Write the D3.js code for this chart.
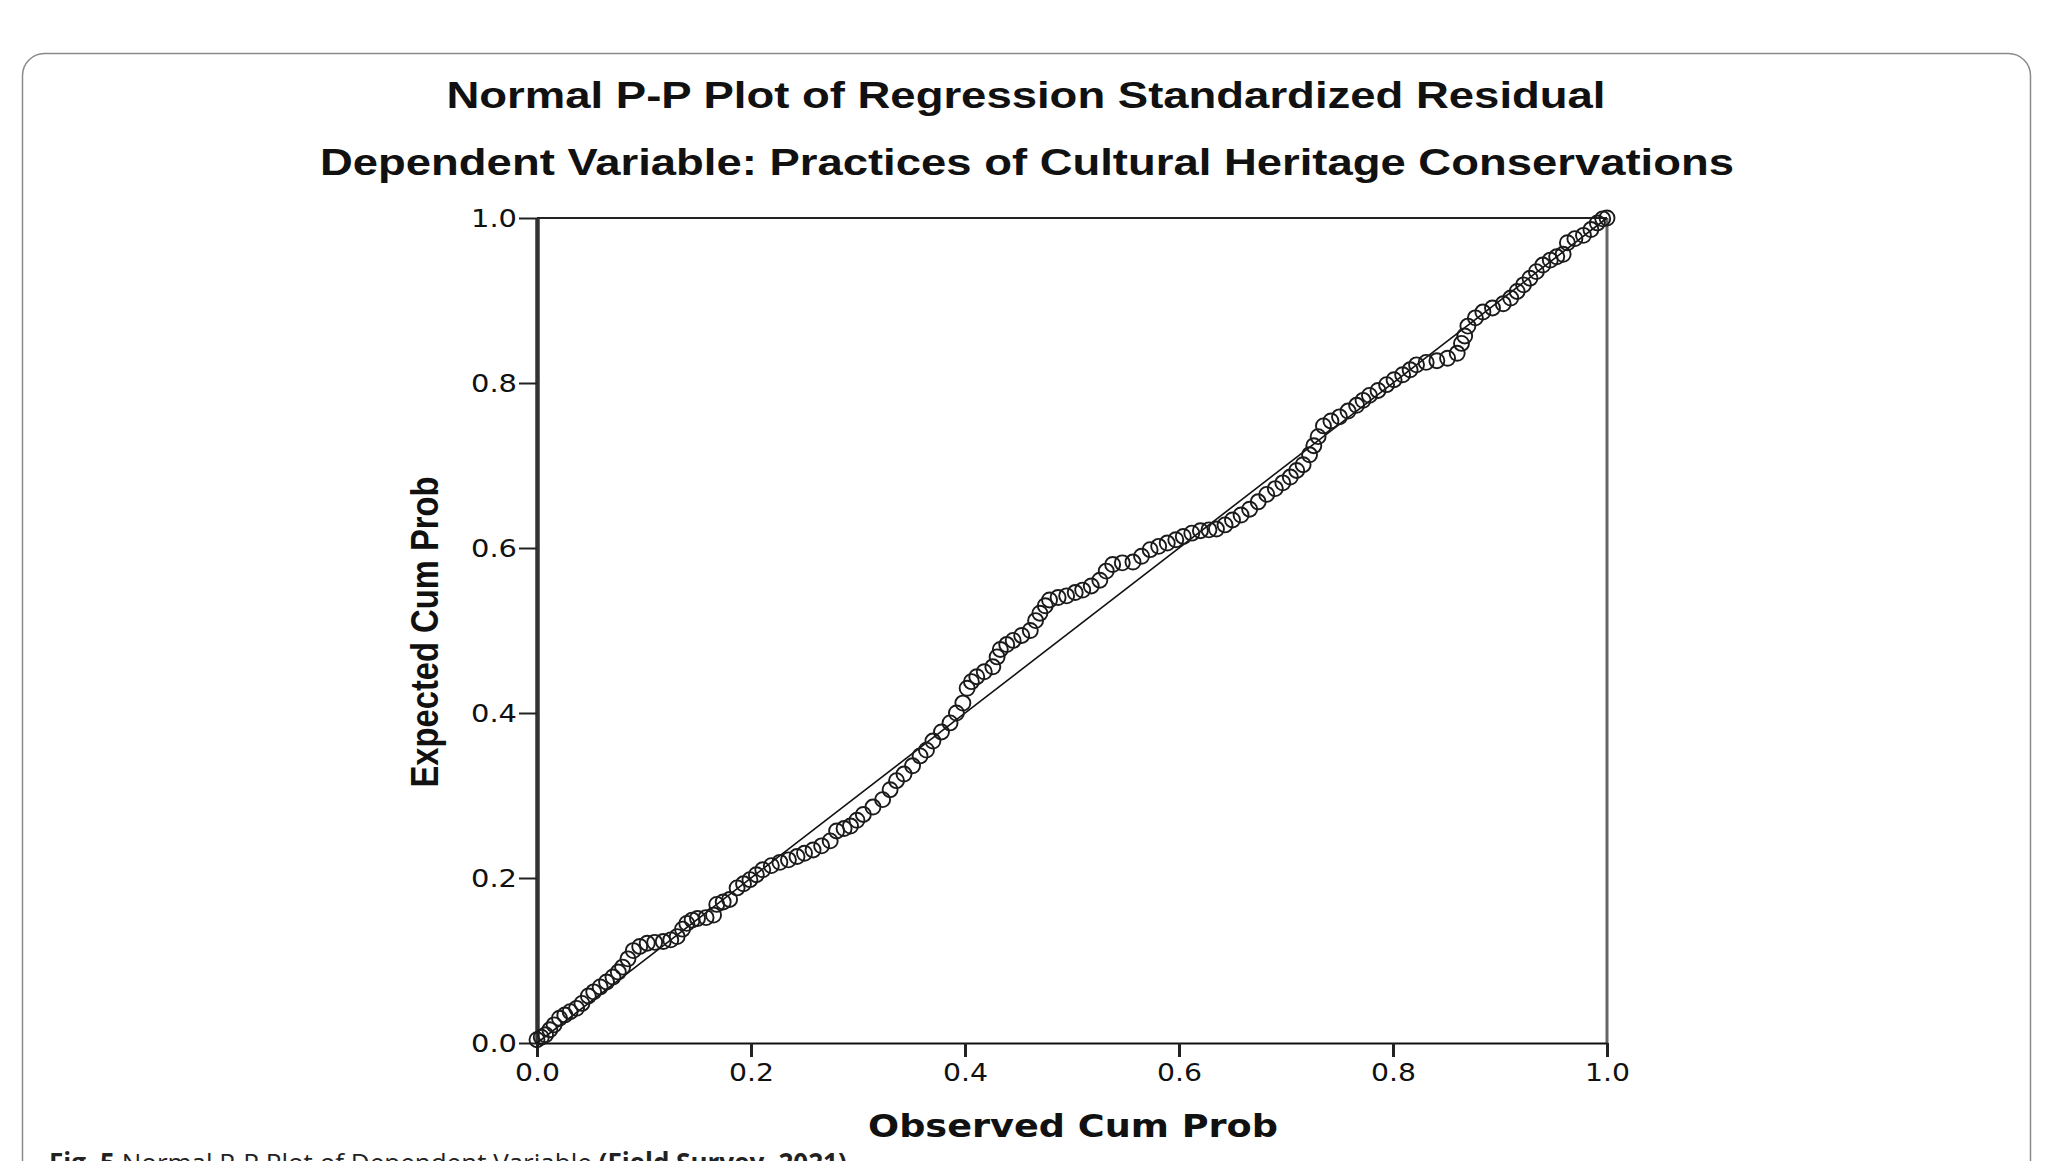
<!DOCTYPE html>
<html>
<head>
<meta charset="utf-8">
<title>Normal P-P Plot</title>
<script src="https://d3js.org/d3.v7.min.js"></script>
<style>
  body { margin: 0; background: #fff; }
  svg { display: block; }
  .tick text { font-family: "DejaVu Sans", sans-serif; fill: #111; }
</style>
</head>
<body>
<div id="chart"></div>
<script>
// observed cumulative probability
const observed = [
  0.000, 0.004, 0.008, 0.012, 0.016, 0.021, 0.026, 0.031, 0.037, 0.042,
  0.048, 0.053, 0.059, 0.065, 0.071, 0.076, 0.080, 0.085, 0.090, 0.096,
  0.103, 0.110, 0.118, 0.125, 0.131, 0.136, 0.140, 0.145, 0.150, 0.158,
  0.165, 0.168, 0.174, 0.180, 0.187, 0.193, 0.199, 0.205, 0.211, 0.219,
  0.227, 0.235, 0.243, 0.250, 0.258, 0.266, 0.274, 0.280, 0.287, 0.293,
  0.299, 0.305, 0.314, 0.323, 0.330, 0.336, 0.343, 0.351, 0.358, 0.364,
  0.370, 0.378, 0.386, 0.392, 0.398, 0.402, 0.406, 0.411, 0.418, 0.426,
  0.430, 0.433, 0.439, 0.445, 0.453, 0.461, 0.466, 0.470, 0.475, 0.479,
  0.487, 0.495, 0.503, 0.510, 0.518, 0.526, 0.532, 0.538, 0.547, 0.557,
  0.565, 0.573, 0.581, 0.589, 0.597, 0.604, 0.612, 0.620, 0.628, 0.635,
  0.643, 0.650, 0.658, 0.666, 0.674, 0.682, 0.690, 0.697, 0.704, 0.710,
  0.716, 0.722, 0.726, 0.730, 0.735, 0.742, 0.750, 0.758, 0.766, 0.772,
  0.778, 0.786, 0.794, 0.801, 0.809, 0.816, 0.822, 0.831, 0.841, 0.851,
  0.860, 0.864, 0.867, 0.870, 0.877, 0.884, 0.893, 0.903, 0.910, 0.916,
  0.922, 0.928, 0.934, 0.940, 0.947, 0.953, 0.959, 0.963, 0.970, 0.978,
  0.985, 0.991, 0.996, 1.000
]

// expected cumulative probability
const expected = [
  0.004, 0.007, 0.010, 0.016, 0.022, 0.030, 0.034, 0.038, 0.042, 0.048,
  0.057, 0.062, 0.068, 0.074, 0.080, 0.086, 0.092, 0.102, 0.112, 0.117,
  0.121, 0.122, 0.123, 0.125, 0.129, 0.138, 0.145, 0.149, 0.151, 0.152,
  0.155, 0.168, 0.171, 0.174, 0.188, 0.193, 0.198, 0.204, 0.210, 0.215,
  0.219, 0.222, 0.226, 0.230, 0.234, 0.239, 0.245, 0.257, 0.260, 0.263,
  0.270, 0.277, 0.286, 0.295, 0.307, 0.318, 0.326, 0.336, 0.348, 0.355,
  0.366, 0.377, 0.388, 0.400, 0.412, 0.430, 0.438, 0.444, 0.450, 0.456,
  0.468, 0.477, 0.483, 0.488, 0.494, 0.500, 0.512, 0.521, 0.530, 0.537,
  0.540, 0.542, 0.546, 0.549, 0.554, 0.561, 0.572, 0.580, 0.582, 0.583,
  0.590, 0.598, 0.602, 0.606, 0.610, 0.614, 0.618, 0.621, 0.622, 0.623,
  0.628, 0.634, 0.640, 0.647, 0.656, 0.665, 0.672, 0.679, 0.686, 0.694,
  0.701, 0.713, 0.724, 0.735, 0.748, 0.754, 0.759, 0.766, 0.773, 0.779,
  0.785, 0.791, 0.798, 0.804, 0.810, 0.816, 0.822, 0.825, 0.827, 0.830,
  0.836, 0.848, 0.857, 0.869, 0.879, 0.886, 0.891, 0.896, 0.903, 0.911,
  0.919, 0.927, 0.935, 0.943, 0.949, 0.953, 0.956, 0.970, 0.975, 0.979,
  0.986, 0.994, 0.999, 1.000
]

const tickValues = [0, 0.2, 0.4, 0.6, 0.8, 1.0]
const tickLabels = ["0.0", "0.2", "0.4", "0.6", "0.8", "1.0"]
const diagonal = [0, 1]

const w = 2063
const h = 1161
const plot = { left: 537, right: 1607, top: 218, bottom: 1043 }

const points = observed.map((d, i) => ({ obs: d, exp: expected[i] }))

const xScale = d3.scaleLinear().domain([0, 1]).range([plot.left, plot.right])
const yScale = d3.scaleLinear().domain([0, 1]).range([plot.bottom, plot.top])

const svg = d3.select("#chart").append("svg")
  .attr("width", w)
  .attr("height", h)

// rounded frame of the figure
svg.append("rect")
  .attr("x", 22.5).attr("y", 53.5)
  .attr("width", 2008).attr("height", 1200)
  .attr("rx", 22).attr("ry", 22)
  .style("fill", "none")
  .style("stroke", "#8a8a8a")
  .style("stroke-width", 1.5)

// titles
svg.append("text")
  .attr("x", 1026).attr("y", 108)
  .attr("text-anchor", "middle")
  .attr("textLength", 1159).attr("lengthAdjust", "spacingAndGlyphs")
  .style("font-family", "'Liberation Sans', Arial, sans-serif")
  .style("font-weight", "bold").style("font-size", "37px").style("fill", "#111")
  .text("Normal P-P Plot of Regression Standardized Residual")

svg.append("text")
  .attr("x", 1027).attr("y", 175)
  .attr("text-anchor", "middle")
  .attr("textLength", 1414).attr("lengthAdjust", "spacingAndGlyphs")
  .style("font-family", "'Liberation Sans', Arial, sans-serif")
  .style("font-weight", "bold").style("font-size", "37px").style("fill", "#111")
  .text("Dependent Variable: Practices of Cultural Heritage Conservations")

// frame top and right
svg.append("line")
  .attr("x1", plot.left).attr("x2", plot.right)
  .attr("y1", plot.top).attr("y2", plot.top)
  .style("stroke", "#222").style("stroke-width", 2)

svg.append("line")
  .attr("x1", plot.right).attr("x2", plot.right)
  .attr("y1", plot.top).attr("y2", plot.bottom)
  .style("stroke", "#666").style("stroke-width", 3)

// axes
const fmt = (d, i) => tickLabels[i]

const xAxis = d3.axisBottom(xScale).tickValues(tickValues).tickFormat(fmt)
  .tickSizeInner(14).tickSizeOuter(0).tickPadding(6)
const yAxis = d3.axisLeft(yScale).tickValues(tickValues).tickFormat(fmt)
  .tickSizeInner(18).tickSizeOuter(0).tickPadding(2)

const gx = svg.append("g")
  .attr("id", "x-axis")
  .attr("transform", "translate(0," + plot.bottom + ")")
  .call(xAxis)
gx.select(".domain").style("stroke", "#111").style("stroke-width", 2)
gx.selectAll(".tick line").style("stroke", "#222").style("stroke-width", 3)
gx.selectAll(".tick text")
  .style("font-size", "25px")
  .attr("textLength", 45).attr("lengthAdjust", "spacingAndGlyphs")

const gy = svg.append("g")
  .attr("id", "y-axis")
  .attr("transform", "translate(" + plot.left + ",0)")
  .call(yAxis)
gy.select(".domain").style("stroke", "#333").style("stroke-width", 4.5)
gy.selectAll(".tick line").style("stroke", "#222").style("stroke-width", 2)
gy.selectAll(".tick text")
  .style("font-size", "25px")
  .attr("textLength", 46).attr("lengthAdjust", "spacingAndGlyphs")

// reference line
svg.append("line")
  .attr("x1", xScale(diagonal[0])).attr("y1", yScale(diagonal[0]))
  .attr("x2", xScale(diagonal[1])).attr("y2", yScale(diagonal[1]))
  .style("stroke", "#111").style("stroke-width", 1.6)

// points
svg.selectAll("circle.pt")
  .data(points)
  .enter()
  .append("circle")
  .attr("class", "pt")
  .attr("cx", d => xScale(d.obs))
  .attr("cy", d => yScale(d.exp))
  .attr("r", 7.5)
  .style("fill", "none")
  .style("stroke", "#1b1b1b")
  .style("stroke-width", 1.9)

// axis titles
svg.append("text")
  .attr("transform", "translate(438,632) rotate(-90)")
  .attr("text-anchor", "middle")
  .attr("textLength", 311).attr("lengthAdjust", "spacingAndGlyphs")
  .style("font-family", "'Liberation Sans', Arial, sans-serif")
  .style("font-weight", "bold").style("font-size", "38px").style("fill", "#111")
  .text("Expected Cum Prob")

svg.append("text")
  .attr("x", 1073).attr("y", 1137)
  .attr("text-anchor", "middle")
  .attr("textLength", 410).attr("lengthAdjust", "spacingAndGlyphs")
  .style("font-family", "'DejaVu Sans', sans-serif")
  .style("font-weight", "bold").style("font-size", "32px").style("fill", "#111")
  .text("Observed Cum Prob")

// figure caption, cut by the bottom edge as in the source image
const cap = svg.append("text")
  .attr("x", 49).attr("y", 1172)
  .style("font-family", "'Open Sans', sans-serif")
  .style("font-size", "26px").style("fill", "#222")
cap.append("tspan").style("font-weight", "bold").text("Fig. 5 ")
cap.append("tspan").text("Normal P-P Plot of Dependent Variable ")
cap.append("tspan").style("font-weight", "bold").text("(Field Survey, 2021)")
</script>
</body>
</html>
